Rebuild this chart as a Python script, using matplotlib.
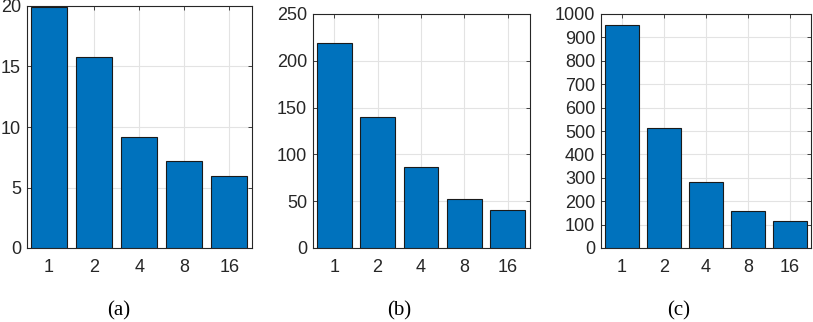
import matplotlib
matplotlib.use("Agg")
import matplotlib.pyplot as plt
import numpy as np

categories = ["1", "2", "4", "8", "16"]
values_a = [19.9, 15.76, 9.15, 7.17, 5.93]
values_b = [218.7, 139.6, 86.2, 52.0, 40.3]
values_c = [951, 511, 280, 157, 115]
captions = ["(a)", "(b)", "(c)"]
ylims = [20, 250, 1000]
yticks = [np.arange(0, 21, 5), np.arange(0, 251, 50), np.arange(0, 1001, 100)]

W, H = 813, 322
fig = plt.figure(figsize=(W / 100, H / 100), dpi=100)

# axes boxes in pixels: left, right, top, bottom
boxes = [(26.5, 252, 6, 248), (312.5, 529.5, 14, 248), (600.7, 811, 14, 248)]
cap_x = [118.5, 399, 679]
cap_y = 311

bar_color = "#0072BD"
for vals, box, yl, yt, cap, cx in zip([values_a, values_b, values_c], boxes, ylims, yticks, captions, cap_x):
    l, r, t, b = box
    ax = fig.add_axes([l / W, 1 - b / H, (r - l) / W, (b - t) / H])
    x = np.arange(1, len(categories) + 1)
    ax.bar(x, vals, width=0.8, color=bar_color, edgecolor="#1a1a1a", linewidth=0.8, zorder=3)
    ax.set_xlim(0.5, len(categories) + 0.5)
    ax.set_ylim(0, yl)
    ax.set_xticks(x)
    ax.set_xticklabels(categories)
    ax.set_yticks(yt)
    ax.grid(True, color="#e3e3e3", linewidth=0.8, zorder=0)
    ax.set_axisbelow(True)
    ax.tick_params(direction="in", length=3, width=0.6, top=True, right=True,
                   labelsize=13, colors="#262626")
    ax.tick_params(axis="y", pad=4)
    ax.tick_params(axis="x", pad=8)
    for lab in ax.get_xticklabels() + ax.get_yticklabels():
        lab.set_fontfamily("Liberation Sans")
        lab.set_color("#262626")
    for s in ax.spines.values():
        s.set_color("#262626")
        s.set_linewidth(0.8)
    fig.text(cx / W, 1 - cap_y / H, cap, ha="center", va="center",
             fontfamily="Liberation Serif", fontsize=15, color="black")

fig.savefig("out.png", dpi=100)
